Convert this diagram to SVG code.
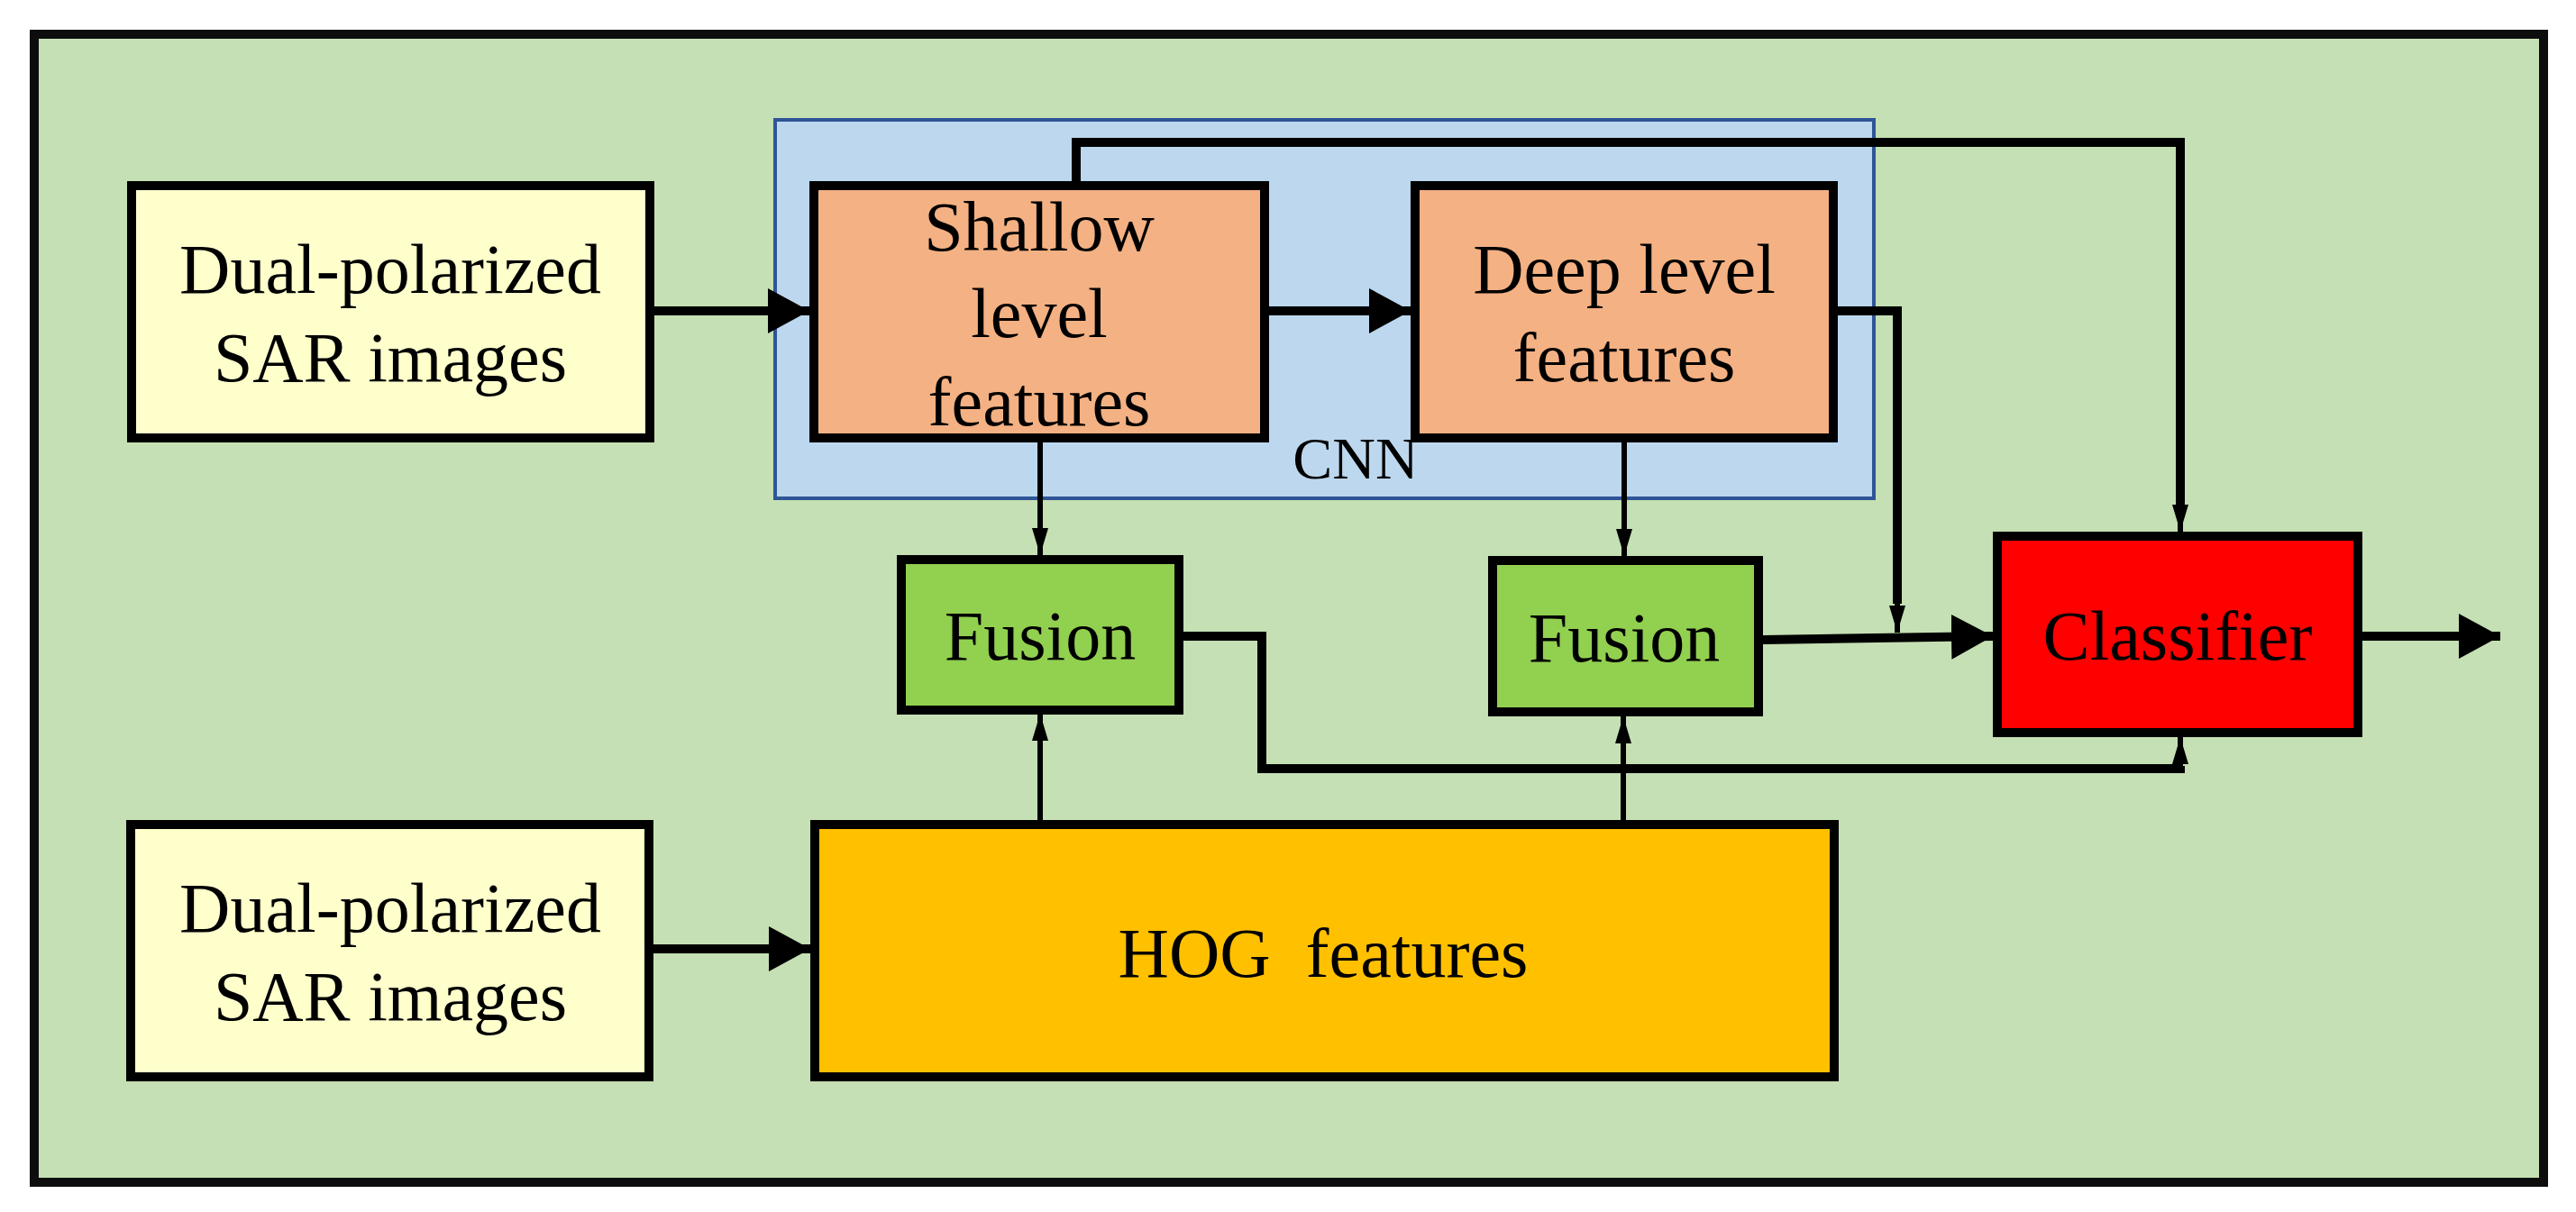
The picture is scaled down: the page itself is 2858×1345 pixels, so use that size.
<svg xmlns="http://www.w3.org/2000/svg" width="2858" height="1345" viewBox="0 0 2858 1345">
<style>
.t{font-family:"Liberation Serif","Times New Roman",serif;font-size:78px;fill:#000;text-anchor:middle}
.b{stroke:#000;stroke-width:10}
.thick{fill:none;stroke:#000;stroke-width:10}
.thin{fill:none;stroke:#000;stroke-width:6}
</style>
<defs>
<marker id="big" markerUnits="userSpaceOnUse" markerWidth="46" markerHeight="50" refX="46" refY="25" orient="auto"><path d="M0,0 L46,25 L0,50 Z" fill="#000"/></marker>
<marker id="small" markerUnits="userSpaceOnUse" markerWidth="30" markerHeight="18" refX="30" refY="9" orient="auto"><path d="M0,0 L30,9 L0,18 Z" fill="#000"/></marker>
</defs>
<rect x="0" y="0" width="2858" height="1345" fill="#fff"/>
<rect x="38" y="38" width="2784" height="1274" fill="#C5E0B4" stroke="#0d0d0d" stroke-width="10"/>
<g id="cnn"><rect x="860" y="133" width="1219" height="420" fill="#BDD7EE" stroke="#2F5597" stroke-width="4"/><text class="t" x="1504" y="531" style="font-size:66px">CNN</text></g>
<g id="connectors">
<line class="thick" x1="725" y1="345" x2="898" y2="345" marker-end="url(#big)"/>
<line class="thick" x1="1408" y1="345" x2="1565" y2="345" marker-end="url(#big)"/>
<polyline class="thick" points="1194,206 1194,158 2419,158 2419,560"/>
<line class="thin" x1="2419" y1="550" x2="2419" y2="590" marker-end="url(#small)"/>
<line class="thin" x1="1154" y1="490" x2="1154" y2="616" marker-end="url(#small)"/>
<line class="thin" x1="1802" y1="490" x2="1802" y2="617" marker-end="url(#small)"/>
<polyline class="thick" points="2039,345 2105,345 2105,670"/>
<line class="thin" x1="2105" y1="660" x2="2105" y2="702" marker-end="url(#small)"/>
<line class="thick" x1="1956" y1="710" x2="2211" y2="706" marker-end="url(#big)"/>
<line class="thick" x1="2621" y1="706" x2="2774" y2="706" marker-end="url(#big)"/>
<polyline class="thick" points="1312,706 1400,706 1400,853 2419,853 2419,850"/>
<line class="thin" x1="2419" y1="855" x2="2419" y2="818" marker-end="url(#small)"/>
<line class="thin" x1="1154" y1="910" x2="1154" y2="792" marker-end="url(#small)"/>
<line class="thin" x1="1801" y1="910" x2="1801" y2="795" marker-end="url(#small)"/>
<line class="thick" x1="725" y1="1053" x2="899" y2="1053" marker-end="url(#big)"/>
</g>
<g id="dual1"><rect class="b" x="146" y="206" width="575" height="280" fill="#FFFFCC"/><text class="t" x="433" y="325">Dual-polarized</text><text class="t" x="433" y="423">SAR images</text></g>
<g id="shallow"><rect class="b" x="903" y="206" width="500" height="280" fill="#F4B183"/><text class="t" x="1153" y="278">Shallow</text><text class="t" x="1153" y="374">level</text><text class="t" x="1153" y="472">features</text></g>
<g id="deep"><rect class="b" x="1570" y="206" width="464" height="280" fill="#F4B183"/><text class="t" x="1802" y="325">Deep level</text><text class="t" x="1802" y="423">features</text></g>
<g id="fusion1"><rect class="b" x="1000" y="621" width="308" height="167" fill="#92D050"/><text class="t" x="1154" y="732">Fusion</text></g>
<g id="fusion2"><rect class="b" x="1656" y="622" width="295" height="168" fill="#92D050"/><text class="t" x="1802" y="734">Fusion</text></g>
<g id="classifier"><rect class="b" x="2216" y="595" width="400" height="218" fill="#FF0000"/><text class="t" x="2416" y="732">Classifier</text></g>
<g id="dual2"><rect class="b" x="145" y="915" width="575" height="280" fill="#FFFFCC"/><text class="t" x="433" y="1034">Dual-polarized</text><text class="t" x="433" y="1132">SAR images</text></g>
<g id="hog"><rect class="b" x="904" y="915" width="1131" height="280" fill="#FFC000"/><text class="t" x="1468" y="1084" xml:space="preserve">HOG  features</text></g>
</svg>
